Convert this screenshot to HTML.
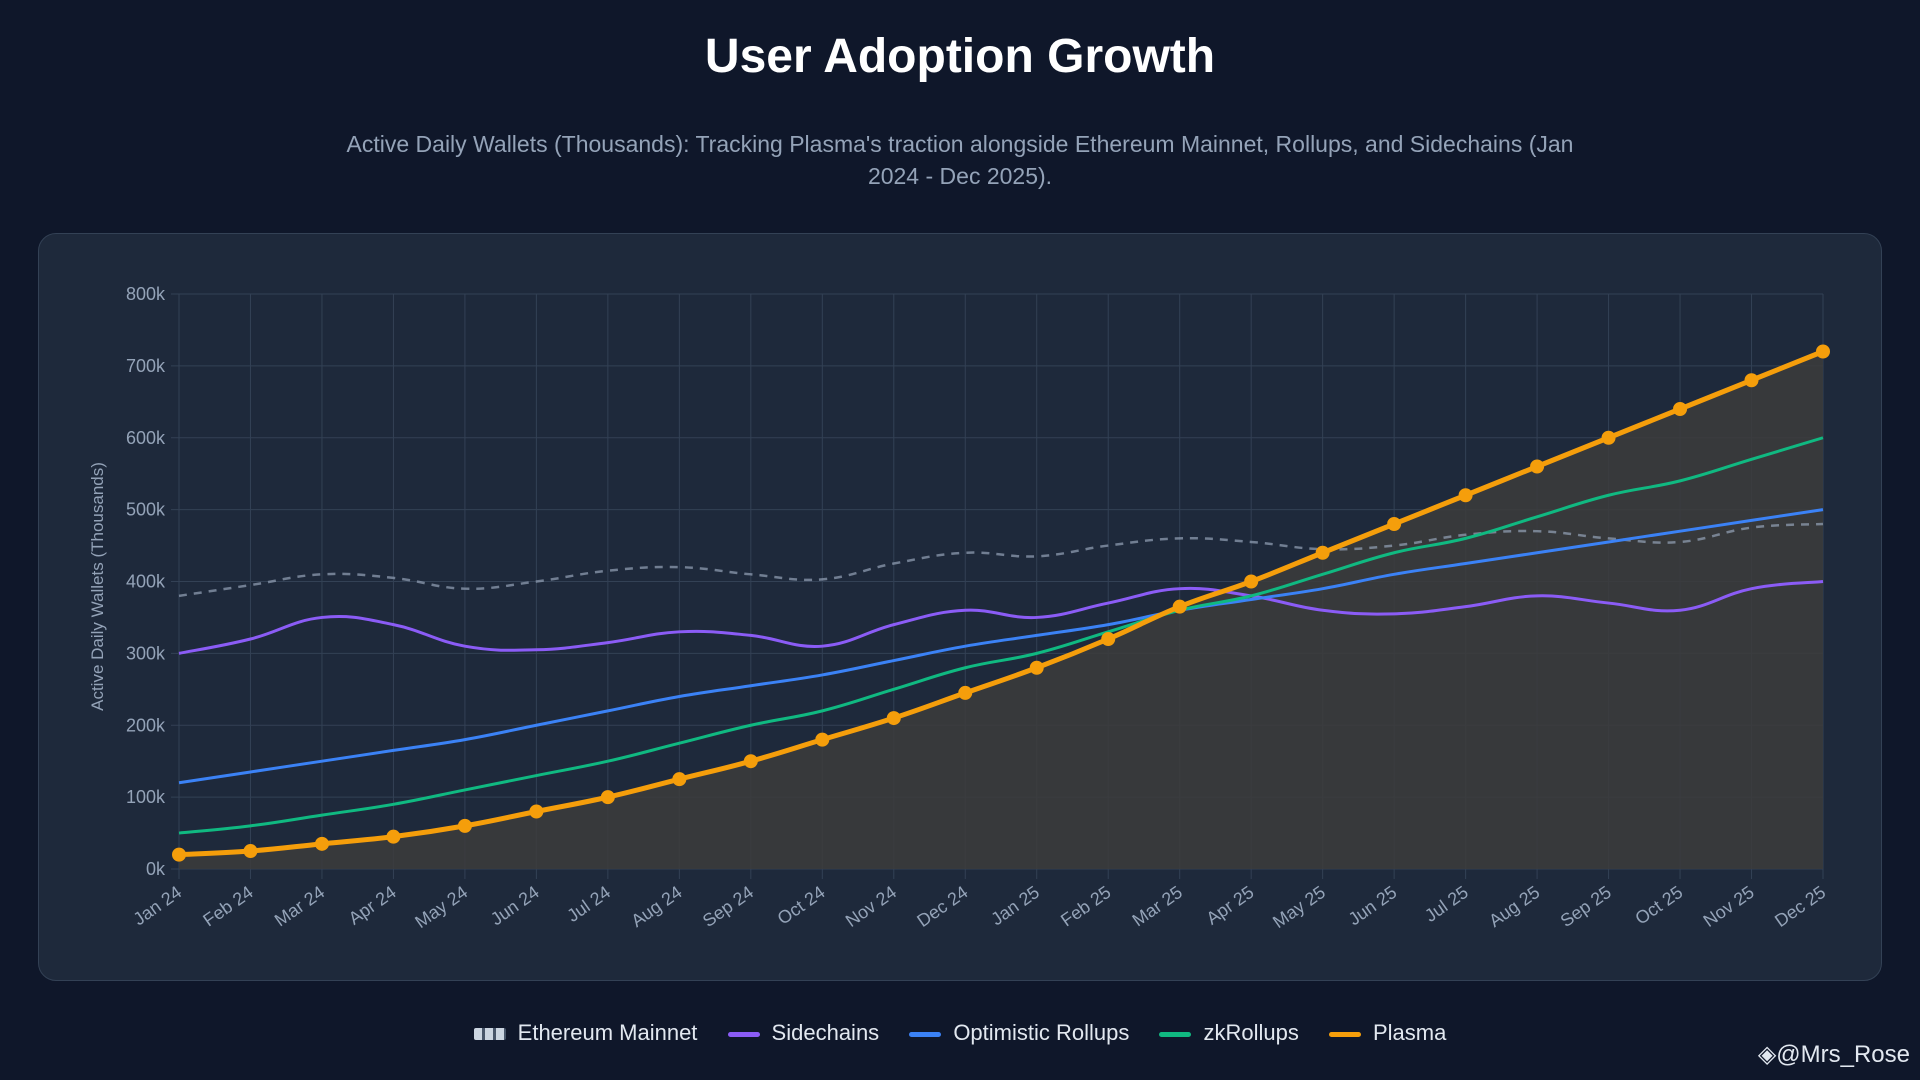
<!DOCTYPE html>
<html><head><meta charset="utf-8"><style>
html,body{margin:0;padding:0;background:#0f172a;width:1920px;height:1080px;overflow:hidden;font-family:"Liberation Sans",sans-serif}
#title{position:absolute;top:29px;left:0;width:1920px;text-align:center;color:#fff;font-size:48px;font-weight:bold}
#sub{position:absolute;top:128px;left:320px;width:1280px;text-align:center;color:#94a3b8;font-size:23px;line-height:32px}
#card{position:absolute;left:38px;top:233px;width:1844px;height:748px;background:#1e293b;border:1px solid #334155;border-radius:18px;box-sizing:border-box}
svg{position:absolute;left:0;top:0}
#legend{position:absolute;top:1020px;left:0;width:1920px;text-align:center;color:#e2e8f0;font-size:22px}
.li{display:inline-block;margin:0 12px}
.sw{display:inline-block;width:32px;height:5px;border-radius:3px;vertical-align:middle;margin-right:12px}
#wm{position:absolute;right:10px;top:1040px;color:#e2e8f0;font-size:24px}
</style></head><body>
<div id="title">User Adoption Growth</div>
<div id="sub">Active Daily Wallets (Thousands): Tracking Plasma's traction alongside Ethereum Mainnet, Rollups, and Sidechains (Jan 2024 - Dec 2025).</div>
<div id="card"></div>
<svg id="chart" width="1920" height="1080"></svg>
<div id="legend">
<span class="li"><span class="sw" style="background:repeating-linear-gradient(90deg,#cbd5e1 0 8px,#475569 8px 11px);height:12px;border-radius:2px"></span>Ethereum Mainnet</span>
<span class="li"><span class="sw" style="background:#8b5cf6"></span>Sidechains</span>
<span class="li"><span class="sw" style="background:#3b82f6"></span>Optimistic Rollups</span>
<span class="li"><span class="sw" style="background:#10b981"></span>zkRollups</span>
<span class="li"><span class="sw" style="background:#f59e0b"></span>Plasma</span>
</div>
<div id="wm">◈@Mrs_Rose</div>
<script>
const categories=["Jan 24","Feb 24","Mar 24","Apr 24","May 24","Jun 24","Jul 24","Aug 24","Sep 24","Oct 24","Nov 24","Dec 24","Jan 25","Feb 25","Mar 25","Apr 25","May 25","Jun 25","Jul 25","Aug 25","Sep 25","Oct 25","Nov 25","Dec 25"];
const ethereum=[380,395,410,405,390,400,415,420,410,403,425,440,435,450,460,455,445,450,465,470,460,455,475,480];
const sidechains=[300,320,350,340,310,305,315,330,325,310,340,360,350,370,390,380,360,355,365,380,370,360,390,400];
const optimistic=[120,135,150,165,180,200,220,240,255,270,290,310,325,340,360,375,390,410,425,440,455,470,485,500];
const zkrollups=[50,60,75,90,110,130,150,175,200,220,250,280,300,330,360,380,410,440,460,490,520,540,570,600];
const plasma=[20,25,35,45,60,80,100,125,150,180,210,245,280,320,365,400,440,480,520,560,600,640,680,720];
const yTicks=[0,100,200,300,400,500,600,700,800];
const X0=179,X1=1823,Y0=869,Y1=294,YMAX=800;
const sx=i=>X0+i*(X1-X0)/(categories.length-1);
const sy=v=>Y0-v/YMAX*(Y0-Y1);
const svg=document.getElementById('chart');const NS='http://www.w3.org/2000/svg';
function mk(t,a){const e=document.createElementNS(NS,t);for(const k in a)e.setAttribute(k,a[k]);svg.appendChild(e);return e;}
yTicks.forEach(t=>{
 const g=mk('line',{x1:X0-8,x2:X1,y1:sy(t),y2:sy(t),stroke:'#334155','stroke-width':1});
 
 
 const l=mk('text',{x:X0-14,y:sy(t)+6,'text-anchor':'end',fill:'#94a3b8','font-size':18,'font-family':'Liberation Sans'});
 l.textContent=t+'k';
 
 
});
categories.forEach((c,i)=>{
 const g=mk('line',{x1:sx(i),x2:sx(i),y1:Y1,y2:Y0+10,stroke:'#334155','stroke-width':1});
 
 
 const l=mk('text',{x:sx(i)+4,y:Y0+26,'text-anchor':'end',fill:'#94a3b8','font-size':18,'font-family':'Liberation Sans',transform:`rotate(-35 ${sx(i)+4} ${Y0+26})`});
 l.textContent=c;
 
 
});
const yt=mk('text',{x:103,y:(Y0+Y1)/2+5,'text-anchor':'middle',fill:'#94a3b8','font-size':17,'font-family':'Liberation Sans',transform:`rotate(-90 103 ${(Y0+Y1)/2+5})`});
yt.textContent='Active Daily Wallets (Thousands)';


function path(vals){
 const p=vals.map((v,i)=>[sx(i),sy(v)]);const t=0.4;let d=`M${p[0][0]},${p[0][1]}`;
 for(let i=0;i<p.length-1;i++){const a=p[Math.max(0,i-1)],b=p[i],c=p[i+1],e=p[Math.min(p.length-1,i+2)];
  const c1=[b[0]+(c[0]-a[0])*t/2,b[1]+(c[1]-a[1])*t/2],c2=[c[0]-(e[0]-b[0])*t/2,c[1]-(e[1]-b[1])*t/2];
  d+=` C${c1[0]},${c1[1]} ${c2[0]},${c2[1]} ${c[0]},${c[1]}`;}
 return d;}
const area=mk('path',{d:path(plasma)+` L${X1},${Y0} L${X0},${Y0} Z`,fill:'rgba(60,60,60,0.85)'});


[[ethereum,'#94a3b8',2.5,'8 7','ethereum-line'],[sidechains,'#8b5cf6',3,'','sidechains-line'],[optimistic,'#3b82f6',3,'','optimistic-line'],[zkrollups,'#10b981',3,'','zkrollups-line'],[plasma,'#f59e0b',5,'','plasma-line']].forEach(s=>{
 const e=mk('path',{d:path(s[0]),fill:'none',stroke:s[1],'stroke-width':s[2],'stroke-dasharray':s[3]||'none',opacity:s[4]=='ethereum-line'?0.7:1});
 
 
});
plasma.forEach((v,i)=>{
 const c=mk('circle',{cx:sx(i),cy:sy(v),r:6.5,fill:'#f59e0b',stroke:'#f59e0b'});
 
 
});
</script>
</body></html>
